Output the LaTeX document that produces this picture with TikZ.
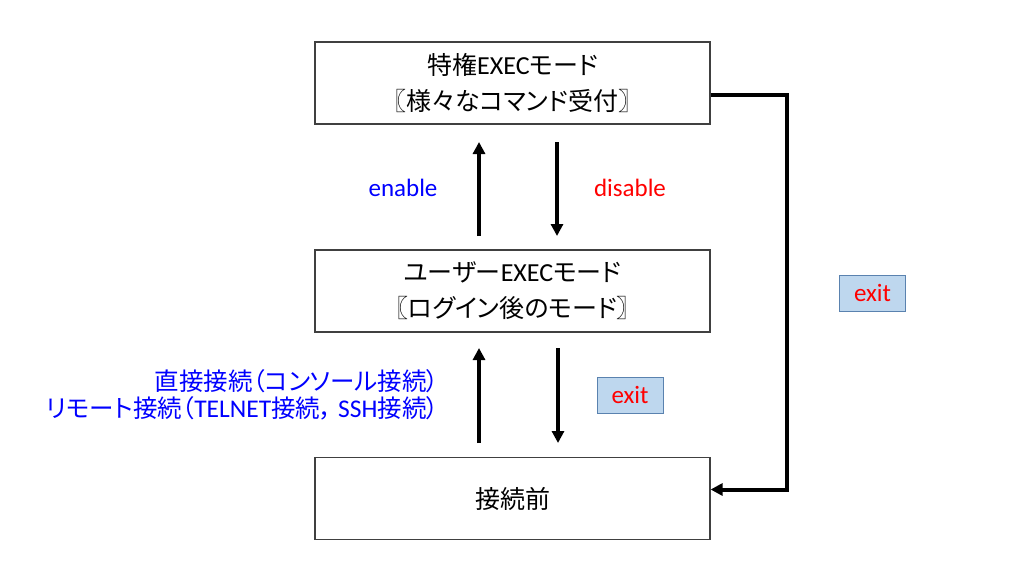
\documentclass[tikz,border=0pt]{standalone}
\usepackage{fontspec}
\setmainfont{Noto Sans CJK JP}[RawFeature=+palt]
\newfontfamily\lat{Carlito}
\usetikzlibrary{arrows.meta}
\definecolor{boxdraw}{RGB}{64,64,64}
\definecolor{exitfill}{RGB}{190,215,238}
\definecolor{exitdraw}{RGB}{90,130,175}
\begin{document}
\begin{tikzpicture}[x=1pt,y=-1pt]
\tikzset{
  modebox/.style={draw=boxdraw, line width=1.2pt, minimum width=395pt, minimum height=82pt, align=center, inner sep=0pt, font=\fontsize{25}{36}\selectfont},
  arr/.style={line width=4pt, -{Triangle[length=12pt,width=12pt]}},
  exitbox/.style={draw=exitdraw, fill=exitfill, line width=1pt, minimum width=66pt, minimum height=36pt, inner sep=0pt, text=red, font=\lat\fontsize{25}{30}\selectfont},
  lbl/.style={font=\lat\fontsize{25}{30}\selectfont}
}
\fill[white] (0,0) rectangle (1024,583);
\useasboundingbox (0,0) rectangle (1024,583);

\node[modebox] (priv) at (512.5,83) {特権{\lat\fontsize{26}{36}\selectfont EXEC}モード\\〖様々なコマンド受付〗};
\node[modebox] (user) at (512.5,291) {ユーザー{\lat\fontsize{26}{36}\selectfont EXEC}モード\\〖ログイン後のモード〗};
\node[modebox] (pre) at (512.5,498.5) {接続前};

\coordinate (a1s) at (479,236); \coordinate (a1e) at (479,142);
\coordinate (a2s) at (557,142); \coordinate (a2e) at (557,236);
\coordinate (a3s) at (479,443); \coordinate (a3e) at (479,348);
\coordinate (a4s) at (558,348); \coordinate (a4e) at (558,443);
\draw[arr] (a1s) -- (a1e);
\draw[arr] (a2s) -- (a2e);
\draw[arr] (a3s) -- (a3e);
\draw[arr] (a4s) -- (a4e);

\node[lbl, text=blue] (en) at (403,188) {enable};
\node[lbl, text=red] (dis) at (630,188) {disable};

\node[text=blue, align=right, anchor=east, inner sep=0pt, font=\fontsize{24.5}{27}\selectfont] (conn) at (439,395) {直接接続（コンソール接続）\\リモート接続（{\lat\fontsize{25.5}{27}\selectfont TELNET}接続，{\lat\fontsize{25.5}{27}\selectfont\ SSH}接続）};

\node[exitbox] (ex1) at (630,395) {exit};
\node[exitbox] (ex2) at (872.5,293) {exit};

\coordinate (r1) at (787,95);
\coordinate (r2) at (787,489.5);
\draw[line width=4pt, -{Triangle[length=12pt,width=12pt]}] ([yshift=-12pt]priv.east) -- (r1) -- (r2) -- ([yshift=9pt]pre.east);
\end{tikzpicture}
\end{document}
